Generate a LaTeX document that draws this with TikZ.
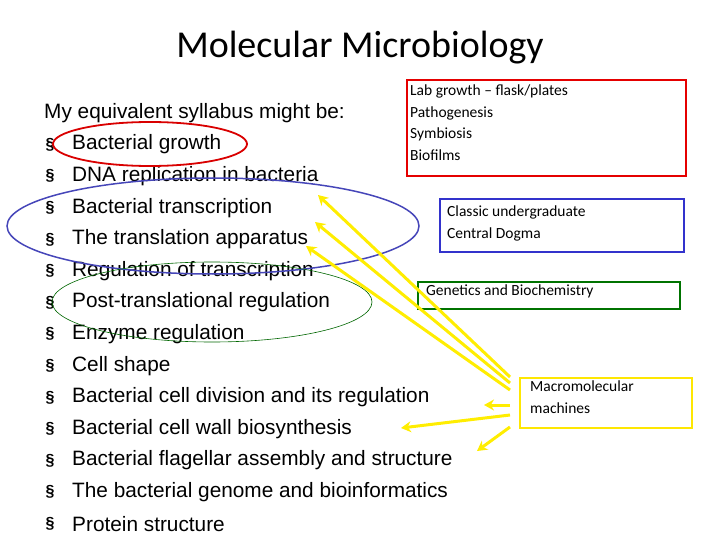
\documentclass[tikz,border=0pt]{standalone}
\usepackage{fontspec}
\usetikzlibrary{arrows.meta}
\setmainfont{Liberation Sans}
\newfontfamily\carl{Carlito}
\begin{document}
\begin{tikzpicture}[x=1pt,y=-1pt,
  item/.style={anchor=west,inner sep=0,font=\fontsize{20.8}{21}\selectfont},
  bul/.style={anchor=center,inner sep=0,font=\bfseries\fontsize{16}{16}\selectfont},
  box/.style={anchor=north west,align=left,font=\carl\fontsize{15.5}{21.5}\selectfont,inner sep=0},
  yarr/.style={draw=yellow!95!orange,line width=3pt,-{Stealth[length=10pt,width=11pt]}}]
\useasboundingbox (0,0) rectangle (720,540);
\node[anchor=center,font=\carl\fontsize{38}{38}\selectfont] (title) at (360,48) {Molecular Microbiology};
\node[item] (hd) at (44,113) {My equivalent syllabus might be:};
\foreach \t [count=\i] in {Bacterial growth,DNA replication in bacteria,Bacterial transcription,The translation apparatus,Regulation of transcription,Post-translational regulation,Enzyme regulation,Cell shape,Bacterial cell division and its regulation,Bacterial cell wall biosynthesis,Bacterial flagellar assembly and structure,The bacterial genome and bioinformatics,Protein structure}{
  \node[bul] (b\i) at (50,{113+31.6*\i}) {§};
  \node[item] (i\i) at (72,{113+31.6*\i}) {\t};
}
\draw[red!85!black,line width=1.8pt] (150,144) ellipse (97 and 22);
\draw[blue!45!gray,line width=1.5pt] (213,226) ellipse (206 and 48);
\draw[green!40!black,line width=0.6pt] (212,302) ellipse (160 and 40);
\draw[red!90!black,line width=2pt] (407,80) rectangle (686,176);
\node[box] (lab) at (410,85) {Lab growth – flask/plates\\Pathogenesis\\Symbiosis\\Biofilms};
\draw[blue!60!gray,line width=1.8pt] (440,199) rectangle (684,252);
\node[box] (cl) at (447,206) {Classic undergraduate\\Central Dogma};
\draw[green!45!black,line width=1.8pt] (418,282) rectangle (680,309);
\node[box] (gb) at (426,285) {Genetics and Biochemistry};
\draw[yellow!90!orange,line width=2pt] (520,378) rectangle (692,428);
\node[box] (mm) at (530,381) {Macromolecular\\machines};
\coordinate (s1) at (510,377); \coordinate (e1) at (318,195);
\coordinate (s2) at (510,383); \coordinate (e2) at (315,222);
\coordinate (s3) at (510,390); \coordinate (e3) at (306,246);
\coordinate (s4) at (510,405); \coordinate (e4) at (484,405);
\coordinate (s5) at (510,415); \coordinate (e5) at (401,428);
\coordinate (s6) at (510,427); \coordinate (e6) at (477,451);
\foreach \k in {1,...,6}{\draw[yarr] (s\k) -- (e\k);}
\end{tikzpicture}
\end{document}
